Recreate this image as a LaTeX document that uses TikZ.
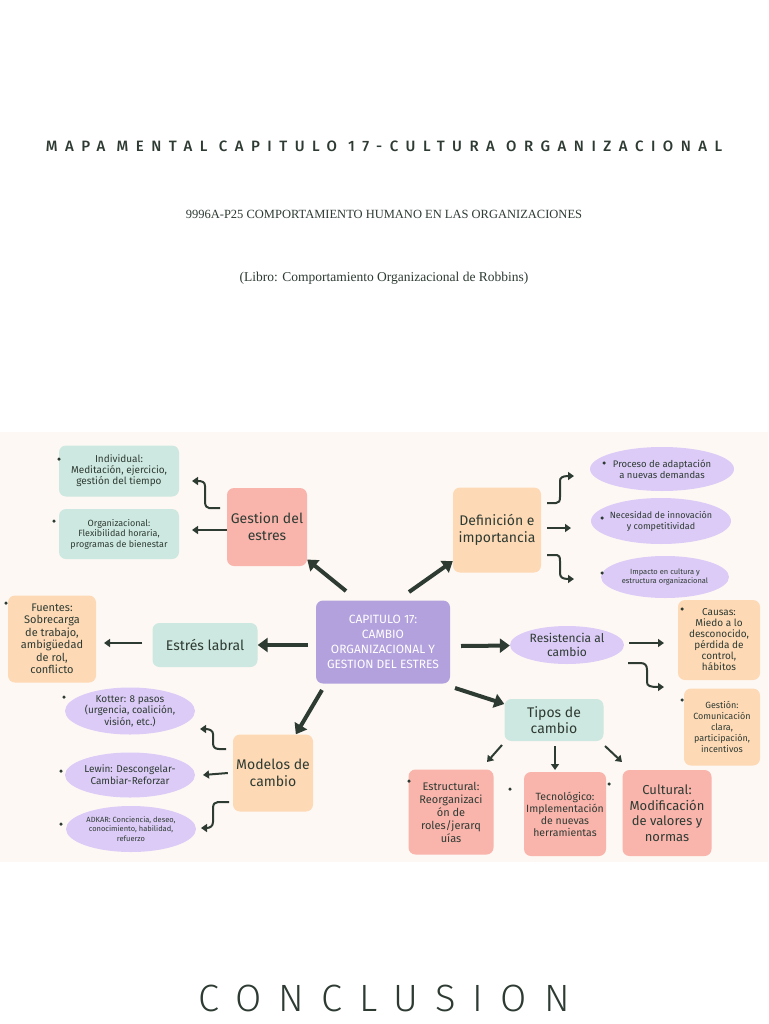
\documentclass[tikz,border=0pt]{standalone}
\usepackage{fontspec}
\setmainfont{Fira Sans}
\newfontfamily\serifx{Liberation Serif}
\newfontfamily\spaced[LetterSpace=50]{Fira Sans Medium}
\newfontfamily\spacedb[LetterSpace=45]{Fira Sans Light}
\usetikzlibrary{arrows.meta,shapes.geometric}
\definecolor{bg}{HTML}{FDF8F4}
\definecolor{teal}{HTML}{CDE8E0}
\definecolor{pink}{HTML}{F9B4AC}
\definecolor{peach}{HTML}{FDD9B5}
\definecolor{cen}{HTML}{B3A1DD}
\definecolor{lav}{HTML}{DCCBF7}
\definecolor{ink}{HTML}{2E3B33}
\begin{document}
\begin{tikzpicture}[x=1pt,y=-1pt,
  box/.style={rounded corners=7pt,inner sep=0pt,align=center,text=ink,font=\fontsize{10}{11}\selectfont},
  ell/.style={ellipse,inner sep=-4pt,align=center,fill=lav,text=ink,font=\fontsize{9.5}{11}\selectfont},
  big/.style={-{Triangle[length=10pt,width=14pt]},line width=4pt,ink},
  thin/.style={-{Triangle[length=6pt,width=8pt]},line width=2pt,ink},
  dot/.style={circle,fill=ink,inner sep=0pt,minimum size=3.5pt}]
\useasboundingbox (0,0) rectangle (768,1024);
\fill[white] (0,0) rectangle (768,1024);
\fill[bg] (0,432) rectangle (768,862);
\node[font=\spaced\fontsize{15}{16}\selectfont,text=ink] (t) at (384,146) {MAPA MENTAL CAPITULO 17-CULTURA ORGANIZACIONAL};
\node[font=\serifx\fontsize{12.5}{14}\selectfont,text=ink] (s) at (384,214) {9996A-P25 COMPORTAMIENTO HUMANO EN LAS ORGANIZACIONES};
\node[font=\serifx\fontsize{13.5}{15}\selectfont,text=ink] (l) at (384,278) {(Libro: Comportamiento Organizacional de Robbins)};
\node[font=\spacedb\fontsize{38}{40}\selectfont,text=ink] (c) at (384,998) {CONCLUSION};

\node[box,fill=cen,text=white,minimum width=134pt,minimum height=83pt,font=\fontsize{12}{15}\selectfont] (C) at (383,642) {CAPITULO 17:\\CAMBIO\\ORGANIZACIONAL Y\\GESTION DEL ESTRES};
\node[box,fill=teal,minimum width=120pt,minimum height=51pt] (ind) at (119,471) {Individual:\\Meditación, ejercicio,\\gestión del tiempo};
\node[box,fill=teal,minimum width=120pt,minimum height=50pt,font=\fontsize{9}{10.5}\selectfont] (org) at (119,534) {Organizacional:\\Flexibilidad horaria,\\programas de bienestar};
\node[box,fill=pink,minimum width=80pt,minimum height=78pt,font=\fontsize{14}{17}\selectfont] (ge) at (267,527) {Gestion del\\estres};
\node[box,fill=peach,minimum width=88pt,minimum height=85pt,font=\fontsize{14}{17}\selectfont] (def) at (497,530) {Definición e\\importancia};
\node[ell,minimum width=144pt,minimum height=44pt] (pro) at (662,469) {Proceso de adaptación\\a nuevas demandas};
\node[ell,minimum width=140pt,minimum height=46pt,font=\fontsize{9}{11}\selectfont] (nec) at (661,521) {Necesidad de innovación\\y competitividad};
\node[ell,minimum width=128pt,minimum height=42pt,font=\fontsize{7.5}{9.5}\selectfont] (imp) at (665,577) {Impacto en cultura y\\estructura organizacional};
\node[box,fill=teal,minimum width=105pt,minimum height=44pt,font=\fontsize{14}{17}\selectfont] (el) at (205,645) {Estrés labral};
\node[box,fill=peach,minimum width=88pt,minimum height=87pt,font=\fontsize{11}{12.5}\selectfont] (fu) at (52,639) {Fuentes:\\Sobrecarga\\de trabajo,\\ambigüedad\\de rol,\\conflicto};
\node[ell,minimum width=114pt,minimum height=38pt,font=\fontsize{12}{14}\selectfont] (res) at (567,645) {Resistencia al\\cambio};
\node[box,fill=peach,minimum width=82pt,minimum height=80pt] (cau) at (719,640) {Causas:\\Miedo a lo\\desconocido,\\pérdida de\\control,\\hábitos};
\node[box,fill=peach,minimum width=76pt,minimum height=77pt,font=\fontsize{9}{11}\selectfont] (ges) at (722,727) {Gestión:\\Comunicación\\clara,\\participación,\\incentivos};
\node[box,fill=teal,minimum width=99pt,minimum height=42pt,font=\fontsize{14}{16}\selectfont] (tip) at (554,720) {Tipos de\\cambio};
\node[box,fill=pink,minimum width=85pt,minimum height=85pt,font=\fontsize{11}{13}\selectfont] (est) at (451,812) {Estructural:\\Reorganizaci\\ón de\\roles/jerarq\\uías};
\node[box,fill=pink,minimum width=82pt,minimum height=84pt,font=\fontsize{10.5}{12}\selectfont] (tec) at (565,814) {Tecnológico:\\Implementación\\de nuevas\\herramientas};
\node[box,fill=pink,minimum width=89pt,minimum height=86pt,font=\fontsize{13}{15.5}\selectfont] (cul) at (667,813) {Cultural:\\Modificación\\de valores y\\normas};
\node[box,fill=peach,minimum width=80pt,minimum height=77pt,font=\fontsize{14}{17}\selectfont] (mod) at (273,773) {Modelos de\\cambio};
\node[ell,minimum width=130pt,minimum height=47pt,font=\fontsize{10}{11.5}\selectfont] (kot) at (130,711) {Kotter: 8 pasos\\(urgencia, coalición,\\visión, etc.)};
\node[ell,minimum width=130pt,minimum height=45pt,font=\fontsize{10}{12}\selectfont] (lew) at (130,775) {Lewin: Descongelar-\\Cambiar-Reforzar};
\node[ell,minimum width=130pt,minimum height=46pt,font=\fontsize{7.5}{9.5}\selectfont] (adk) at (131,829) {ADKAR: Conciencia, deseo,\\conocimiento, habilidad,\\refuerzo};

% bullets
\foreach \p in {(59,459),(54,521),(6,603),(64,697),(61,771),(61,824),(604,463),(602,518),(602,573),(682,609),(682,700),(409,781),(510,789),(609,784)}
  \node[dot] at \p {};

% big arrows from center
\draw[big] (346,591) -- (ge);
\draw[big] (409,592) -- (def);
\draw[big] (308,645) -- (el);
\draw[big] (461,646) -- (res);
\draw[big] (322,690) -- (mod);
\draw[big] (455,688) -- (tip);

% thin arrows
\draw[thin] (220,508) -- (209,508) .. controls (207,508) and (205,506) .. (205,502) -- (205,486) .. controls (205,482) and (202,481) .. (192,481);
\draw[thin] (ge.west) ++(0,3) -- (192,530);
\draw[thin] (547,503) -- (556,503) .. controls (559,503) and (560,501) .. (560,497) -- (560,481) .. controls (560,478) and (562,476) .. (574,476);
\draw[thin] (547,528) -- (571,528);
\draw[thin] (547,555) -- (557,555) .. controls (559,555) and (560,557) .. (560,561) -- (560,573) .. controls (560,577) and (562,579) .. (574,579);
\draw[thin] (el.west) ++(-10,-2) -- (104,643);
\draw[thin] (629,643) -- (664,643);
\draw[thin] (628,663) -- (640,663) .. controls (645,663) and (647,665) .. (647,670) -- (647,682) .. controls (647,686) and (650,687) .. (664,687);
\draw[thin] (502,745) -- (487,762);
\draw[thin] (555,746) -- (555,770);
\draw[thin] (605,746) -- (622,762);
\draw[thin] (226,749) -- (219,749) .. controls (215,749) and (213,747) .. (213,743) -- (213,734) .. controls (213,731) and (210,729) .. (200,729);
\draw[thin] (mod.west) ++(-5,0) -- (203,775);
\draw[thin] (229,802) -- (218,802) .. controls (215,802) and (213,804) .. (213,808) -- (213,822) .. controls (213,826) and (210,828) .. (201,828);
\end{tikzpicture}
\end{document}
